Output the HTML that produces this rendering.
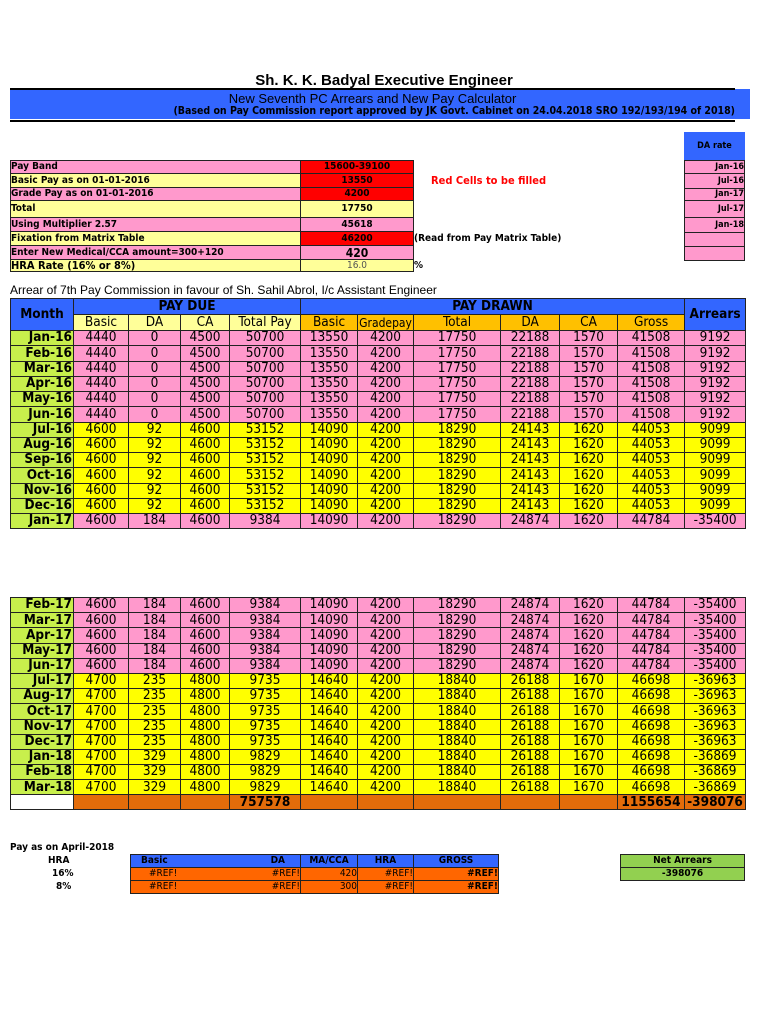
<!DOCTYPE html>
<html><head><meta charset="utf-8"><style>
body{margin:0;width:768px;height:1024px;background:#fff;position:relative;font-family:"DejaVu Sans Condensed","DejaVu Sans","Liberation Sans",sans-serif;overflow:hidden}
.a{position:absolute}
table{border-collapse:collapse;table-layout:fixed;position:absolute}
td{border:1px solid #222;padding:0;overflow:hidden;white-space:nowrap;text-align:center;line-height:1}
.n{font-family:"Liberation Sans Narrow","Liberation Sans",sans-serif}
.m{background:#c8ef4c;font-weight:bold;text-align:right;padding-right:1px}
.p td{background:#ff99cc}.y td{background:#ffff00}
.p td.m,.y td.m{background:#c8ef4c}
.mt{font-size:13.5px}
</style></head><body>
<div class="a n" style="left:0;width:768px;top:72px;text-align:center;font-size:15px;font-weight:bold;font-family:'Liberation Sans',sans-serif">Sh. K. K. Badyal Executive Engineer</div>
<div class="a" style="left:10px;top:89px;width:740px;height:30px;background:#3366ff"></div>
<div class="a" style="left:10px;top:88px;width:725px;height:30px;border-top:2px solid #000;border-bottom:2px solid #000"></div>
<div class="a n" style="left:10px;width:725px;top:91px;text-align:center;font-size:13px">New Seventh PC Arrears and New Pay Calculator</div>
<div class="a" style="left:10px;width:725px;top:105px;text-align:right;font-size:10.5px;font-weight:bold;font-family:'DejaVu Sans Condensed',sans-serif">(Based on Pay Commission report approved by JK Govt. Cabinet on 24.04.2018 SRO 192/193/194 of 2018)</div>

<table style="left:10px;top:160px;width:403px;font-size:10px;font-weight:bold">
<col style="width:290px"><col style="width:113px">
<tr style="height:13px"><td style="background:#ff99cc;text-align:left">Pay Band</td><td style="background:#ff0000">15600-39100</td></tr>
<tr style="height:14px"><td style="background:#ffff99;text-align:left">Basic Pay as on 01-01-2016</td><td style="background:#ff0000">13550</td></tr>
<tr style="height:13px"><td style="background:#ff99cc;text-align:left">Grade Pay as on 01-01-2016</td><td style="background:#ff0000">4200</td></tr>
<tr style="height:17px"><td style="background:#ffff99;text-align:left">Total</td><td style="background:#ffff99">17750</td></tr>
<tr style="height:14px"><td style="background:#ff99cc;text-align:left">Using Multiplier 2.57</td><td style="background:#ff99cc">45618</td></tr>
<tr style="height:14px"><td style="background:#ffff99;text-align:left">Fixation from Matrix Table</td><td style="background:#ff0000">46200</td></tr>
<tr style="height:14px"><td style="background:#ff99cc;text-align:left">Enter New Medical/CCA amount=300+120</td><td style="background:#ff99cc;font-size:12px">420</td></tr>
<tr style="height:12px"><td style="background:#ffff99;text-align:left;font-size:11px;font-weight:bold">HRA Rate (16% or 8%)</td><td style="background:#ffff99;color:#555;font-weight:normal">16.0</td></tr>
</table>
<div class="a" style="left:431px;top:174px;font-size:11px;color:#ff0000;font-weight:bold">Red Cells to be filled</div>
<div class="a" style="left:414px;top:233px;font-size:10px;font-weight:bold">(Read from Pay Matrix Table)</div>
<div class="a" style="left:414px;top:260px;font-size:10px;font-weight:bold">%</div>
<div class="a" style="left:684px;top:132px;width:61px;height:28px;background:#3366ff;font-size:9px;text-align:center;line-height:28px;font-weight:bold">DA rate</div>
<table style="left:684px;top:160px;width:61px;font-size:9px;font-weight:bold">
<tr style="height:13px"><td style="background:#ff99cc;text-align:right">Jan-16</td></tr>
<tr style="height:15px"><td style="background:#ff99cc;text-align:right">Jul-16</td></tr>
<tr style="height:12px"><td style="background:#ff99cc;text-align:right">Jan-17</td></tr>
<tr style="height:17px"><td style="background:#ff99cc;text-align:right">Jul-17</td></tr>
<tr style="height:15px"><td style="background:#ff99cc;text-align:right">Jan-18</td></tr>
<tr style="height:14px"><td style="background:#ff99cc"></td></tr>
<tr style="height:14px"><td style="background:#ff99cc"></td></tr>
</table>
<div class="a n" style="left:10px;top:283px;font-size:12px">Arrear of 7th Pay Commission in favour of Sh. Sahil Abrol, I/c Assistant Engineer</div>

<table class="mt" style="left:10px;top:298px;width:735px">
<col style="width:63px"><col style="width:55px"><col style="width:52px"><col style="width:49px"><col style="width:71px"><col style="width:57px"><col style="width:56px"><col style="width:87px"><col style="width:59px"><col style="width:58px"><col style="width:67px"><col style="width:61px">
<tr style="height:16px"><td rowspan="2" style="background:#3366ff;font-weight:bold">Month</td><td colspan="4" style="background:#3366ff;font-weight:bold">PAY DUE</td><td colspan="6" style="background:#3366ff;font-weight:bold">PAY DRAWN</td><td rowspan="2" style="background:#3366ff;font-weight:bold">Arrears</td></tr>
<tr style="height:16px"><td style="background:#ffff99">Basic</td><td style="background:#ffff99">DA</td><td style="background:#ffff99">CA</td><td style="background:#ffff99">Total Pay</td><td style="background:#ffc000">Basic</td><td style="background:#ffc000;font-size:12px">Gradepay</td><td style="background:#ffc000">Total</td><td style="background:#ffc000">DA</td><td style="background:#ffc000">CA</td><td style="background:#ffc000">Gross</td></tr>
<tr class="p" style="height:15.25px"><td class="m">Jan-16</td><td>4440</td><td>0</td><td>4500</td><td>50700</td><td>13550</td><td>4200</td><td>17750</td><td>22188</td><td>1570</td><td>41508</td><td>9192</td></tr>
<tr class="p" style="height:15.25px"><td class="m">Feb-16</td><td>4440</td><td>0</td><td>4500</td><td>50700</td><td>13550</td><td>4200</td><td>17750</td><td>22188</td><td>1570</td><td>41508</td><td>9192</td></tr>
<tr class="p" style="height:15.25px"><td class="m">Mar-16</td><td>4440</td><td>0</td><td>4500</td><td>50700</td><td>13550</td><td>4200</td><td>17750</td><td>22188</td><td>1570</td><td>41508</td><td>9192</td></tr>
<tr class="p" style="height:15.25px"><td class="m">Apr-16</td><td>4440</td><td>0</td><td>4500</td><td>50700</td><td>13550</td><td>4200</td><td>17750</td><td>22188</td><td>1570</td><td>41508</td><td>9192</td></tr>
<tr class="p" style="height:15.25px"><td class="m">May-16</td><td>4440</td><td>0</td><td>4500</td><td>50700</td><td>13550</td><td>4200</td><td>17750</td><td>22188</td><td>1570</td><td>41508</td><td>9192</td></tr>
<tr class="p" style="height:15.25px"><td class="m">Jun-16</td><td>4440</td><td>0</td><td>4500</td><td>50700</td><td>13550</td><td>4200</td><td>17750</td><td>22188</td><td>1570</td><td>41508</td><td>9192</td></tr>
<tr class="y" style="height:15.25px"><td class="m">Jul-16</td><td>4600</td><td>92</td><td>4600</td><td>53152</td><td>14090</td><td>4200</td><td>18290</td><td>24143</td><td>1620</td><td>44053</td><td>9099</td></tr>
<tr class="y" style="height:15.25px"><td class="m">Aug-16</td><td>4600</td><td>92</td><td>4600</td><td>53152</td><td>14090</td><td>4200</td><td>18290</td><td>24143</td><td>1620</td><td>44053</td><td>9099</td></tr>
<tr class="y" style="height:15.25px"><td class="m">Sep-16</td><td>4600</td><td>92</td><td>4600</td><td>53152</td><td>14090</td><td>4200</td><td>18290</td><td>24143</td><td>1620</td><td>44053</td><td>9099</td></tr>
<tr class="y" style="height:15.25px"><td class="m">Oct-16</td><td>4600</td><td>92</td><td>4600</td><td>53152</td><td>14090</td><td>4200</td><td>18290</td><td>24143</td><td>1620</td><td>44053</td><td>9099</td></tr>
<tr class="y" style="height:15.25px"><td class="m">Nov-16</td><td>4600</td><td>92</td><td>4600</td><td>53152</td><td>14090</td><td>4200</td><td>18290</td><td>24143</td><td>1620</td><td>44053</td><td>9099</td></tr>
<tr class="y" style="height:15.25px"><td class="m">Dec-16</td><td>4600</td><td>92</td><td>4600</td><td>53152</td><td>14090</td><td>4200</td><td>18290</td><td>24143</td><td>1620</td><td>44053</td><td>9099</td></tr>
<tr class="p" style="height:15.25px"><td class="m">Jan-17</td><td>4600</td><td>184</td><td>4600</td><td>9384</td><td>14090</td><td>4200</td><td>18290</td><td>24874</td><td>1620</td><td>44784</td><td>-35400</td></tr>
</table>

<table class="mt" style="left:10px;top:597px;width:735px">
<col style="width:63px"><col style="width:55px"><col style="width:52px"><col style="width:49px"><col style="width:71px"><col style="width:57px"><col style="width:56px"><col style="width:87px"><col style="width:59px"><col style="width:58px"><col style="width:67px"><col style="width:61px">
<tr class="p" style="height:15.2px"><td class="m">Feb-17</td><td>4600</td><td>184</td><td>4600</td><td>9384</td><td>14090</td><td>4200</td><td>18290</td><td>24874</td><td>1620</td><td>44784</td><td>-35400</td></tr>
<tr class="p" style="height:15.2px"><td class="m">Mar-17</td><td>4600</td><td>184</td><td>4600</td><td>9384</td><td>14090</td><td>4200</td><td>18290</td><td>24874</td><td>1620</td><td>44784</td><td>-35400</td></tr>
<tr class="p" style="height:15.2px"><td class="m">Apr-17</td><td>4600</td><td>184</td><td>4600</td><td>9384</td><td>14090</td><td>4200</td><td>18290</td><td>24874</td><td>1620</td><td>44784</td><td>-35400</td></tr>
<tr class="p" style="height:15.2px"><td class="m">May-17</td><td>4600</td><td>184</td><td>4600</td><td>9384</td><td>14090</td><td>4200</td><td>18290</td><td>24874</td><td>1620</td><td>44784</td><td>-35400</td></tr>
<tr class="p" style="height:15.2px"><td class="m">Jun-17</td><td>4600</td><td>184</td><td>4600</td><td>9384</td><td>14090</td><td>4200</td><td>18290</td><td>24874</td><td>1620</td><td>44784</td><td>-35400</td></tr>
<tr class="y" style="height:15.2px"><td class="m">Jul-17</td><td>4700</td><td>235</td><td>4800</td><td>9735</td><td>14640</td><td>4200</td><td>18840</td><td>26188</td><td>1670</td><td>46698</td><td>-36963</td></tr>
<tr class="y" style="height:15.2px"><td class="m">Aug-17</td><td>4700</td><td>235</td><td>4800</td><td>9735</td><td>14640</td><td>4200</td><td>18840</td><td>26188</td><td>1670</td><td>46698</td><td>-36963</td></tr>
<tr class="y" style="height:15.2px"><td class="m">Oct-17</td><td>4700</td><td>235</td><td>4800</td><td>9735</td><td>14640</td><td>4200</td><td>18840</td><td>26188</td><td>1670</td><td>46698</td><td>-36963</td></tr>
<tr class="y" style="height:15.2px"><td class="m">Nov-17</td><td>4700</td><td>235</td><td>4800</td><td>9735</td><td>14640</td><td>4200</td><td>18840</td><td>26188</td><td>1670</td><td>46698</td><td>-36963</td></tr>
<tr class="y" style="height:15.2px"><td class="m">Dec-17</td><td>4700</td><td>235</td><td>4800</td><td>9735</td><td>14640</td><td>4200</td><td>18840</td><td>26188</td><td>1670</td><td>46698</td><td>-36963</td></tr>
<tr class="y" style="height:15.2px"><td class="m">Jan-18</td><td>4700</td><td>329</td><td>4800</td><td>9829</td><td>14640</td><td>4200</td><td>18840</td><td>26188</td><td>1670</td><td>46698</td><td>-36869</td></tr>
<tr class="y" style="height:15.2px"><td class="m">Feb-18</td><td>4700</td><td>329</td><td>4800</td><td>9829</td><td>14640</td><td>4200</td><td>18840</td><td>26188</td><td>1670</td><td>46698</td><td>-36869</td></tr>
<tr class="y" style="height:15.2px"><td class="m">Mar-18</td><td>4700</td><td>329</td><td>4800</td><td>9829</td><td>14640</td><td>4200</td><td>18840</td><td>26188</td><td>1670</td><td>46698</td><td>-36869</td></tr>
<tr style="height:15px;font-weight:bold"><td style="background:#fff"></td><td style="background:#e36c0a"></td><td style="background:#e36c0a"></td><td style="background:#e36c0a"></td><td style="background:#e36c0a">757578</td><td style="background:#e36c0a"></td><td style="background:#e36c0a"></td><td style="background:#e36c0a"></td><td style="background:#e36c0a"></td><td style="background:#e36c0a"></td><td style="background:#e36c0a">1155654</td><td style="background:#e36c0a">-398076</td></tr>
</table>

<div class="a" style="left:10px;top:842px;font-size:10px;font-weight:bold">Pay as on April-2018</div>
<div class="a" style="left:48px;top:855px;font-size:10px;font-weight:bold">HRA</div>
<div class="a" style="left:52px;top:868px;font-size:10px;font-weight:bold">16%</div>
<div class="a" style="left:56px;top:881px;font-size:10px;font-weight:bold">8%</div>
<table style="left:130px;top:854px;width:368px;font-size:10px">
<col style="width:170px"><col style="width:57px"><col style="width:56px"><col style="width:85px">
<tr style="height:13px;font-weight:bold"><td style="background:#3366ff;text-align:left;padding-left:10px">Basic<span style="float:right;padding-right:15px">DA</span></td><td style="background:#3366ff">MA/CCA</td><td style="background:#3366ff">HRA</td><td style="background:#3366ff">GROSS</td></tr>
<tr style="height:13px"><td style="background:#ff6600;text-align:left;padding-left:18px">#REF!<span style="float:right">#REF!</span></td><td style="background:#ff6600;text-align:right">420</td><td style="background:#ff6600;text-align:right">#REF!</td><td style="background:#ff6600;text-align:right;font-weight:bold">#REF!</td></tr>
<tr style="height:13px"><td style="background:#ff6600;text-align:left;padding-left:18px">#REF!<span style="float:right">#REF!</span></td><td style="background:#ff6600;text-align:right">300</td><td style="background:#ff6600;text-align:right">#REF!</td><td style="background:#ff6600;text-align:right;font-weight:bold">#REF!</td></tr>
</table>
<table style="left:620px;top:854px;width:125px;font-size:10px;font-weight:bold">
<tr style="height:13px"><td style="background:#92d050">Net Arrears</td></tr>
<tr style="height:13px"><td style="background:#92d050">-398076</td></tr>
</table>
</body></html>
